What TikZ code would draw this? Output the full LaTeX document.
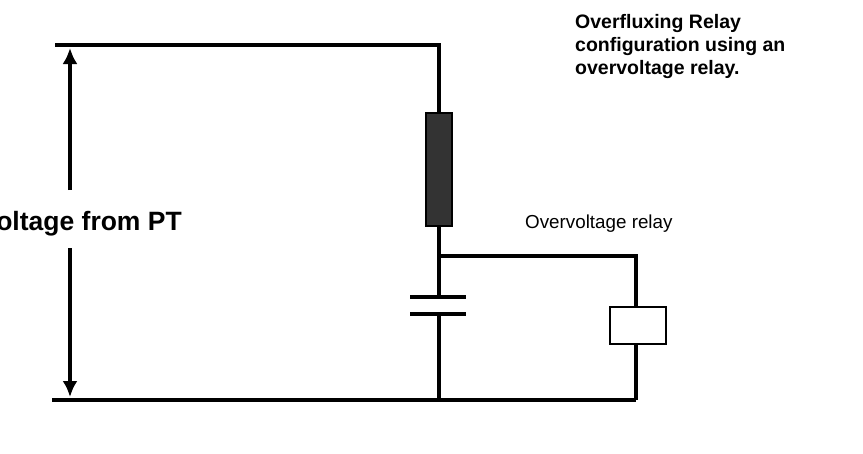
\documentclass[tikz,border=0pt]{standalone}
\usepackage{fontspec}
\setmainfont{Liberation Sans}
\usetikzlibrary{arrows.meta}
\begin{document}
\begin{tikzpicture}[x=1pt,y=-1pt,
  wire/.style={line width=4pt},
  arr/.style={line width=4pt,-{Latex[length=16pt,width=15pt]}},
  lbl/.style={inner sep=0pt,anchor=west}]
\clip (0,0) rectangle (863,453);
\fill[white] (0,0) rectangle (863,453);
\coordinate (tl) at (55,45); \coordinate (tr) at (439,45);
\node[draw=black,line width=2pt,fill=black!80,minimum width=26pt,minimum height=113pt,inner sep=0pt] (R) at (439,169.5) {};
\coordinate (c1) at (439,297); \coordinate (c2) at (439,314);
\coordinate (p1l) at (410,297); \coordinate (p1r) at (466,297);
\coordinate (p2l) at (410,314); \coordinate (p2r) at (466,314);
\coordinate (j) at (439,256); \coordinate (jr) at (636,256);
\node[draw=black,line width=2pt,fill=white,minimum width=56pt,minimum height=37pt,inner sep=0pt] (relay) at (638,325.5) {};
\coordinate (bl) at (52,400); \coordinate (bm) at (439,400); \coordinate (br) at (636,400);
\draw[wire] (tl) -- (tr) -- (R.north);
\draw[wire] (R.south) -- (c1);
\draw[wire] (p1l) -- (p1r);
\draw[wire] (p2l) -- (p2r);
\draw[wire] (c2) -- (bm);
\draw[wire] (bl) -- (br);
\draw[wire] (j) -- (jr) -- (relay.north -| jr);
\draw[wire] (relay.south -| br) -- (br);
\coordinate (a1) at (70,190); \coordinate (a1e) at (70,48);
\coordinate (a2) at (70,248); \coordinate (a2e) at (70,397);
\draw[arr] (a1) -- (a1e);
\draw[arr] (a2) -- (a2e);
\node[inner sep=0pt,anchor=east,font=\bfseries\fontsize{26.5}{28}\selectfont] (pt) at (182,224) {Voltage from PT};
\node[lbl,font=\fontsize{18.8}{20}\selectfont] (rl) at (525,224) {Overvoltage relay};
\node[lbl,anchor=north west,align=left,font=\bfseries\fontsize{19.5}{23}\selectfont] (title) at (575,14) {Overfluxing Relay\\configuration using an\\overvoltage relay.};
\end{tikzpicture}
\end{document}
